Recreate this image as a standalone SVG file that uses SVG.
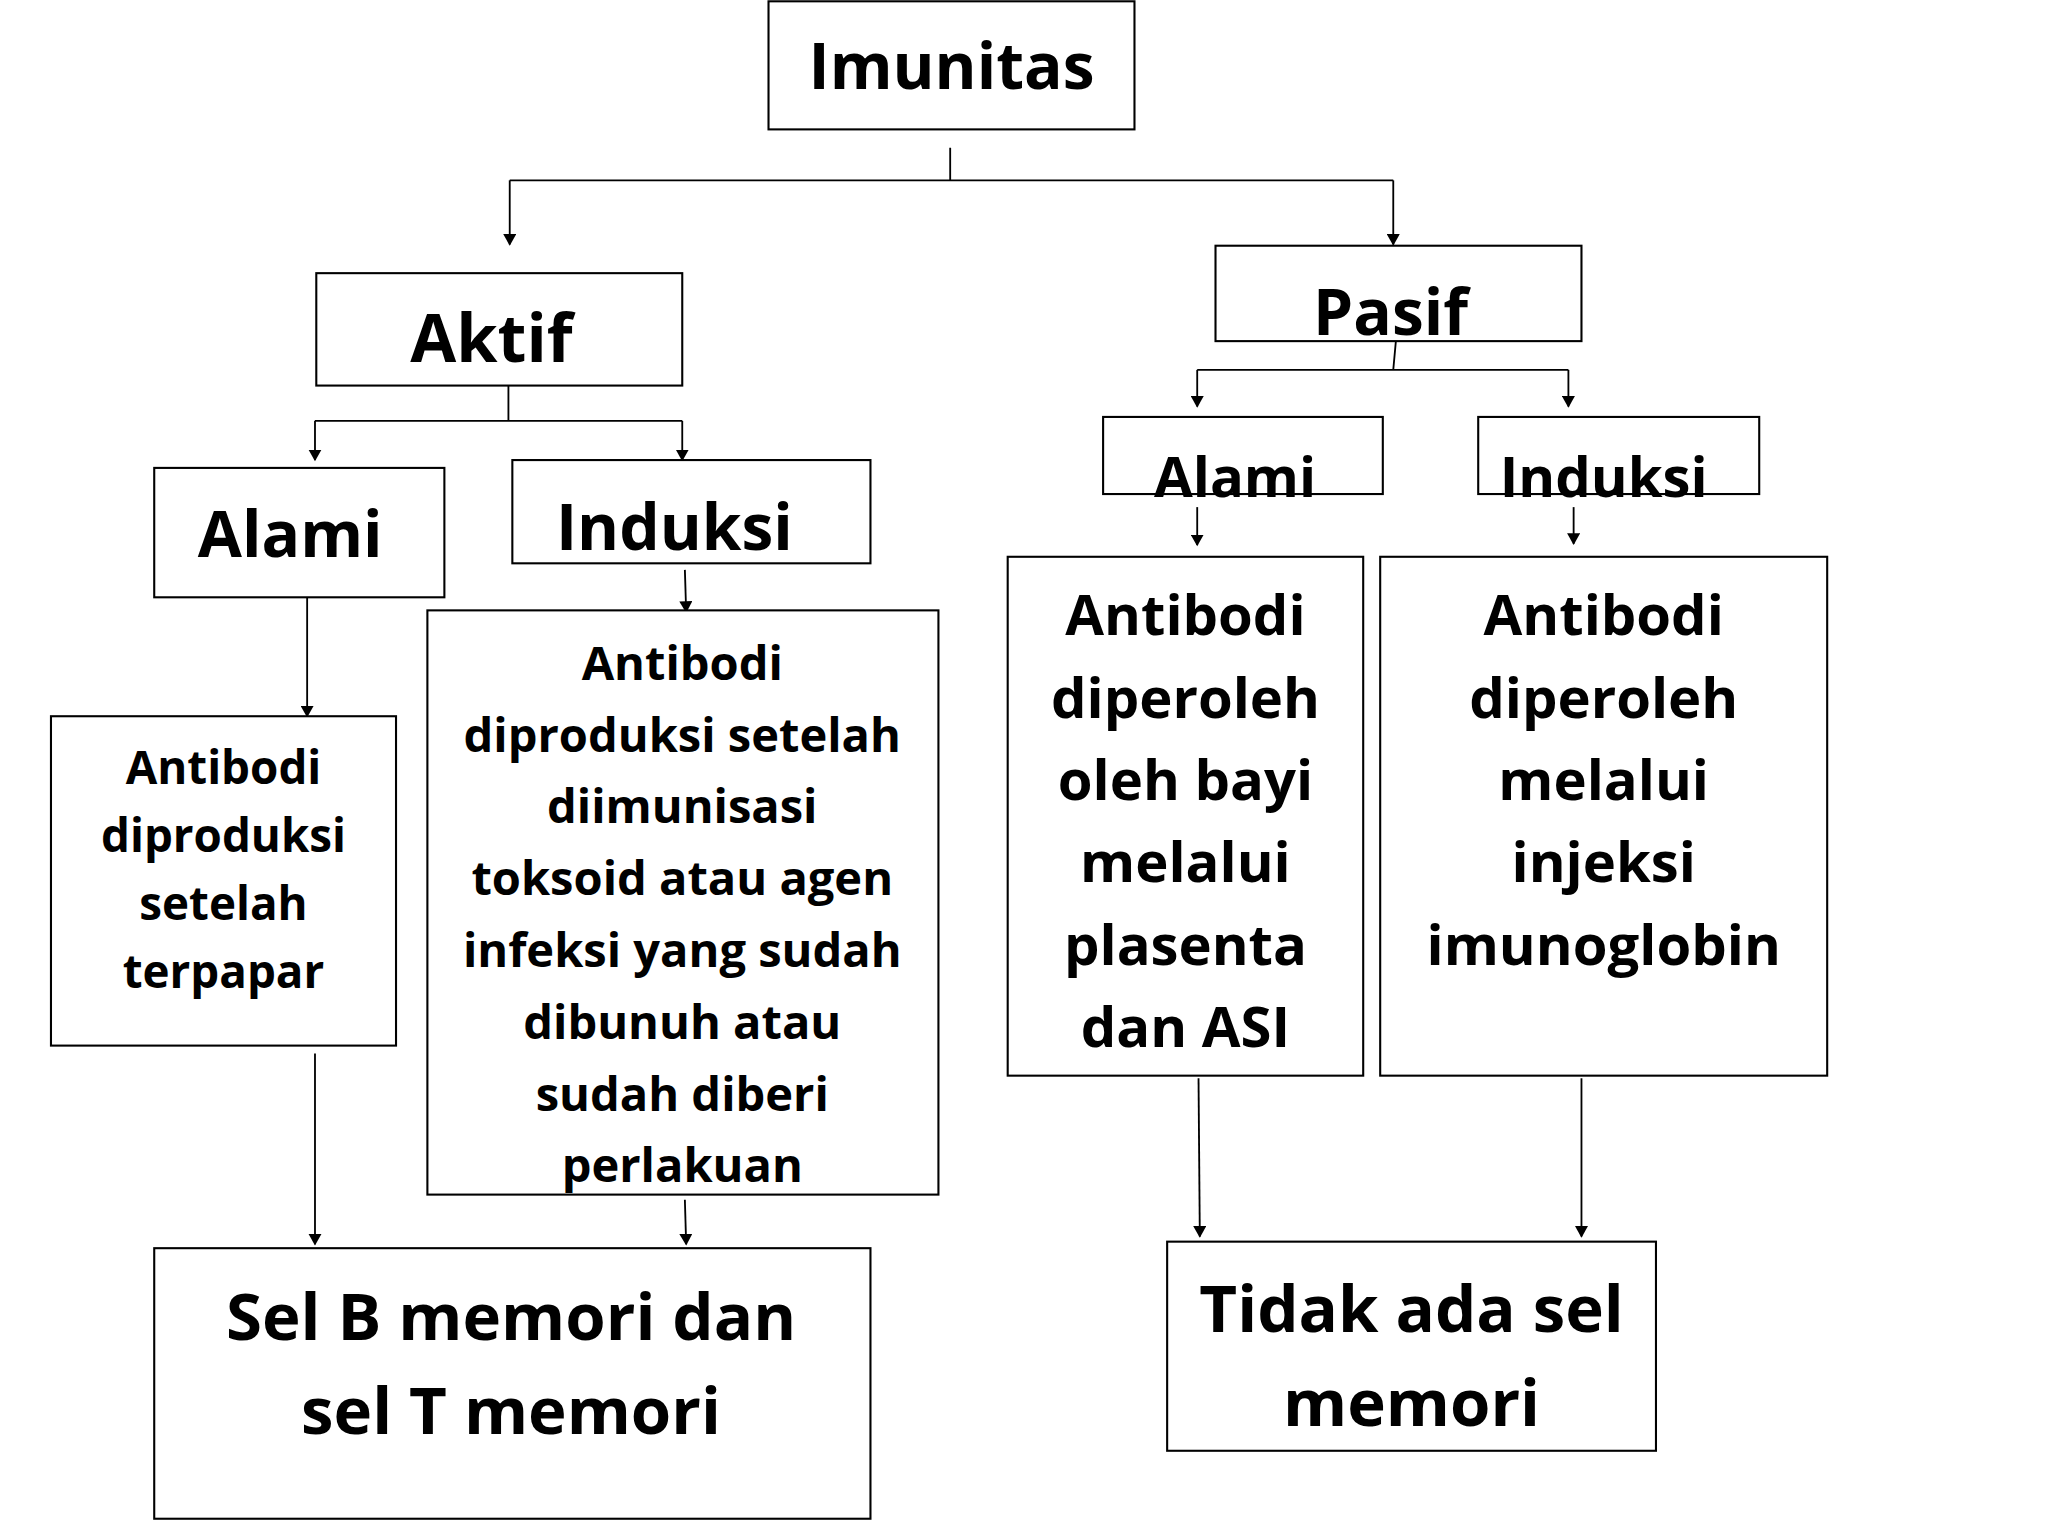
<svg xmlns="http://www.w3.org/2000/svg" width="2048" height="1536" viewBox="0 0 2048 1536">
<style>
.b{fill:#fff;stroke:#000;stroke-width:1.6}
.t{font-family:"Open Sans","Noto Sans",sans-serif;font-weight:bold;text-anchor:middle;fill:#000}
.c{fill:none;stroke:#000;stroke-width:1.4}
</style>
<defs><marker id="a" markerWidth="10" markerHeight="10" refX="8" refY="5" orient="auto" markerUnits="userSpaceOnUse"><path d="M0,0L9,5L0,10z"/></marker></defs>
<rect width="2048" height="1536" fill="#fff"/>
<g transform="scale(1.307)">
<g id="connectors">
<path class="c" d="M727,113V138M390,138H1066"/>
<path class="c" d="M390,138V187" marker-end="url(#a)"/>
<path class="c" d="M1066,138V187" marker-end="url(#a)"/>
<path class="c" d="M389,295V322M241,322H522"/>
<path class="c" d="M241,322V352" marker-end="url(#a)"/>
<path class="c" d="M522,322V352" marker-end="url(#a)"/>
<path class="c" d="M235,457V548" marker-end="url(#a)"/>
<path class="c" d="M524,436L525,468" marker-end="url(#a)"/>
<path class="c" d="M241,806V952" marker-end="url(#a)"/>
<path class="c" d="M524,918L525,952" marker-end="url(#a)"/>
<path class="c" d="M1068,261L1066,283M916,283H1200"/>
<path class="c" d="M916,283V311" marker-end="url(#a)"/>
<path class="c" d="M1200,283V311" marker-end="url(#a)"/>
<path class="c" d="M916,388V417" marker-end="url(#a)"/>
<path class="c" d="M1204,388V416" marker-end="url(#a)"/>
<path class="c" d="M917,825L918,946" marker-end="url(#a)"/>
<path class="c" d="M1210,825V946" marker-end="url(#a)"/>
</g>
<g id="imunitas"><rect class="b" x="588" y="1" width="280" height="98"/><text class="t" x="728" y="68" font-size="49">Imunitas</text></g>
<g id="aktif"><rect class="b" x="242" y="209" width="280" height="86"/><text class="t" x="376" y="277" font-size="51">Aktif</text></g>
<g id="alami1"><rect class="b" x="118" y="358" width="222" height="99"/><text class="t" x="222" y="426" font-size="49">Alami</text></g>
<g id="induksi1"><rect class="b" x="392" y="352" width="274" height="79"/><text class="t" x="516" y="421" font-size="49">Induksi</text></g>
<g id="desc1"><rect class="b" x="39" y="548" width="264" height="252"/>
<text class="t" font-size="35"><tspan x="171" y="600">Antibodi</tspan><tspan x="171" y="652">diproduksi</tspan><tspan x="171" y="704">setelah</tspan><tspan x="171" y="756">terpapar</tspan></text></g>
<g id="desc2"><rect class="b" x="327" y="467" width="391" height="447"/>
<text class="t" font-size="36"><tspan x="522" y="520">Antibodi</tspan><tspan x="522" y="575">diproduksi setelah</tspan><tspan x="522" y="630">diimunisasi</tspan><tspan x="522" y="685">toksoid atau agen</tspan><tspan x="522" y="740">infeksi yang sudah</tspan><tspan x="522" y="795">dibunuh atau</tspan><tspan x="522" y="850">sudah diberi</tspan><tspan x="522" y="904">perlakuan</tspan></text></g>
<g id="selb"><rect class="b" x="118" y="955" width="548" height="207"/>
<text class="t" font-size="50"><tspan x="391" y="1025">Sel B memori dan</tspan><tspan x="391" y="1097">sel T memori</tspan></text></g>
<g id="pasif"><rect class="b" x="930" y="188" width="280" height="73"/><text class="t" x="1064" y="256" font-size="49">Pasif</text></g>
<g id="alami2"><rect class="b" x="844" y="319" width="214" height="59"/><text class="t" x="945" y="380" font-size="43">Alami</text></g>
<g id="induksi2"><rect class="b" x="1131" y="319" width="215" height="59"/><text class="t" x="1227" y="380" font-size="43">Induksi</text></g>
<g id="desc3"><rect class="b" x="771" y="426" width="272" height="397"/>
<text class="t" font-size="43"><tspan x="907" y="486">Antibodi</tspan><tspan x="907" y="549">diperoleh</tspan><tspan x="907" y="612">oleh bayi</tspan><tspan x="907" y="675">melalui</tspan><tspan x="907" y="738">plasenta</tspan><tspan x="907" y="801">dan ASI</tspan></text></g>
<g id="desc4"><rect class="b" x="1056" y="426" width="342" height="397"/>
<text class="t" font-size="43"><tspan x="1227" y="486">Antibodi</tspan><tspan x="1227" y="549">diperoleh</tspan><tspan x="1227" y="612">melalui</tspan><tspan x="1227" y="675">injeksi</tspan><tspan x="1227" y="738">imunoglobin</tspan></text></g>
<g id="tidak"><rect class="b" x="893" y="950" width="374" height="160"/>
<text class="t" font-size="50"><tspan x="1080" y="1019">Tidak ada sel</tspan><tspan x="1080" y="1091">memori</tspan></text></g>
</g>
</svg>
